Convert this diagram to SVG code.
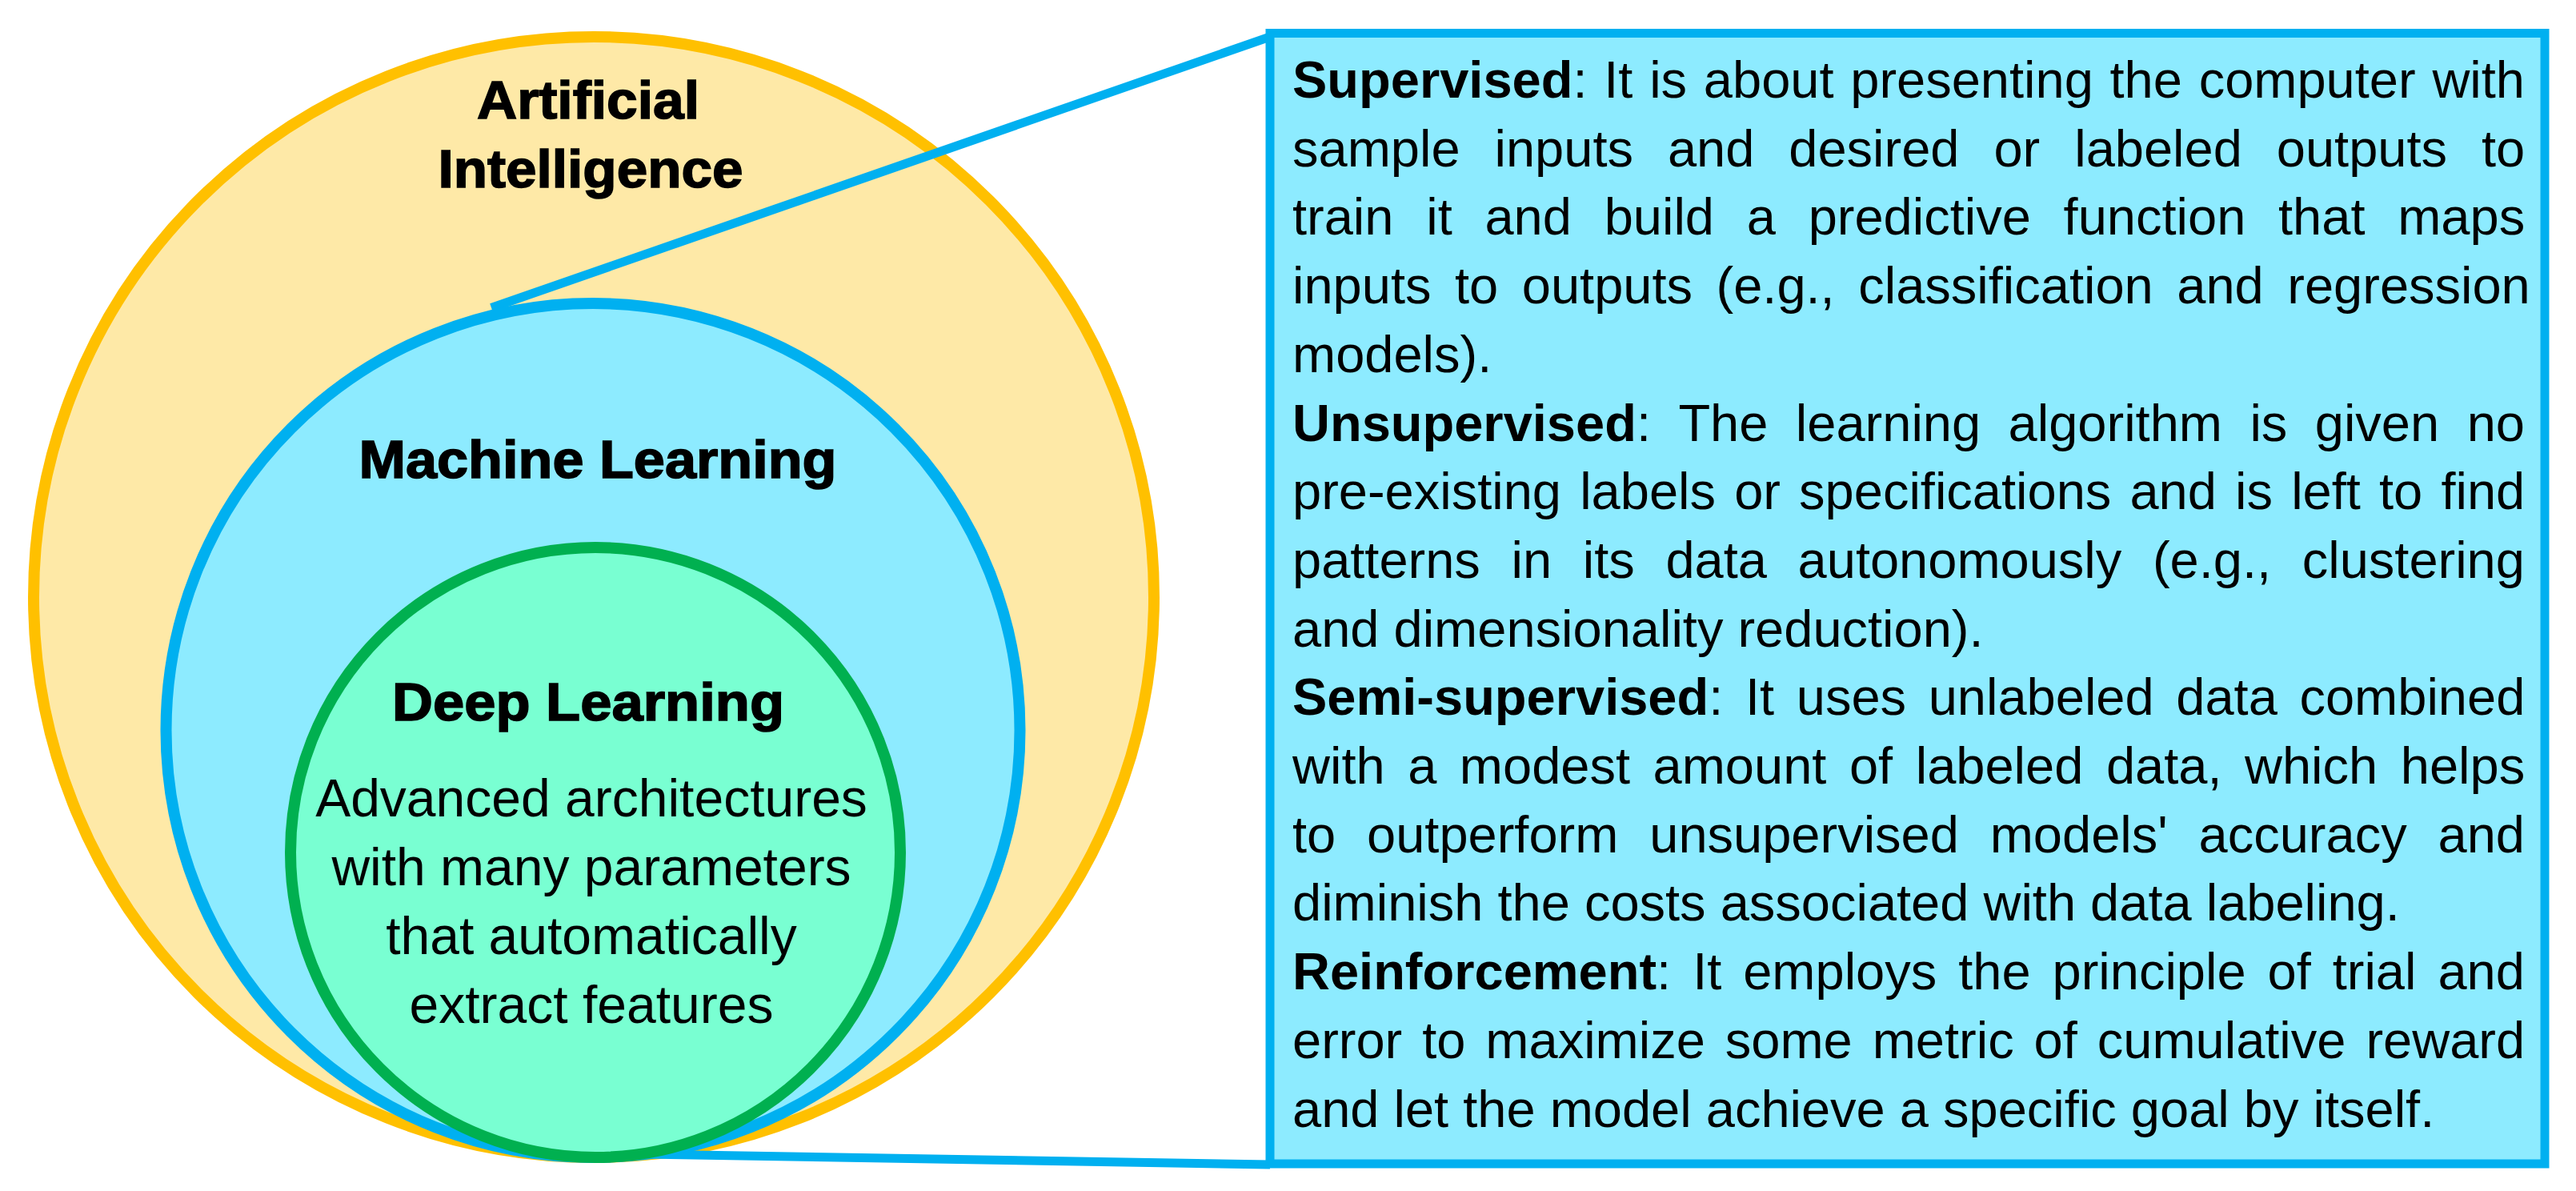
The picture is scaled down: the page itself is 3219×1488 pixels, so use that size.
<svg xmlns="http://www.w3.org/2000/svg" width="3219" height="1488" viewBox="0 0 3219 1488">
<style>
.head{font-family:'Liberation Sans',Arial,sans-serif;font-weight:bold;font-size:67px;fill:#000;stroke:#000;stroke-width:1.6px;text-anchor:middle}
.dl{font-family:'Liberation Sans',Arial,sans-serif;font-size:66px;fill:#000;text-anchor:middle}
.body{font-family:'Liberation Sans',Arial,sans-serif;font-size:65px;fill:#000;font-kerning:none;font-variant-ligatures:none}
.b{font-weight:bold}
.conn{stroke:#00B0F0;stroke-width:11;fill:none}
</style>
<rect width="3219" height="1488" fill="#ffffff"/>
<g id="artificial-intelligence">
<circle cx="742" cy="746" r="700" fill="#FEE9A7" stroke="#FFC000" stroke-width="14"/>
<text class="head" x="735" y="148" textLength="278" lengthAdjust="spacingAndGlyphs">Artificial</text>
<text class="head" x="738" y="234" textLength="381" lengthAdjust="spacingAndGlyphs">Intelligence</text>
</g>
<g id="connectors">
<line class="conn" x1="614" y1="384.5" x2="1587" y2="46"/>
<line class="conn" x1="745" y1="1441" x2="1587" y2="1455"/>
</g>
<g id="machine-learning">
<circle cx="741" cy="912.5" r="533.5" fill="#8DEBFF" stroke="#00B0F0" stroke-width="14"/>
<text class="head" x="747" y="597" textLength="597" lengthAdjust="spacingAndGlyphs">Machine Learning</text>
</g>
<g id="deep-learning">
<circle cx="744" cy="1065" r="381" fill="#79FFD2" stroke="#00B050" stroke-width="14"/>
<text class="head" x="735" y="900" textLength="490" lengthAdjust="spacingAndGlyphs">Deep Learning</text>
<text class="dl" x="739" y="1020">Advanced architectures</text>
<text class="dl" x="739" y="1106">with many parameters</text>
<text class="dl" x="739" y="1192">that automatically</text>
<text class="dl" x="739" y="1278">extract features</text>
</g>
<g id="learning-types">
<rect x="1587" y="41.5" width="1593" height="1412.5" fill="#8DEBFF" stroke="#00B0F0" stroke-width="11"/>
<text class="body" x="1615" y="122" style="word-spacing:2.7px"><tspan class="b">Supervised</tspan>: It is about presenting the computer with</text>
<text class="body" x="1615" y="207.7" style="word-spacing:24.9px">sample inputs and desired or labeled outputs to</text>
<text class="body" x="1615" y="293.4" style="word-spacing:22.7px">train it and build a predictive function that maps</text>
<text class="body" x="1615" y="379.1" style="word-spacing:11.5px">inputs to outputs (e.g., classification and regression</text>
<text class="body" x="1615" y="464.8">models).</text>
<text class="body" x="1615" y="550.5" style="word-spacing:16.4px"><tspan class="b">Unsupervised</tspan>: The learning algorithm is given no</text>
<text class="body" x="1615" y="636.2" style="word-spacing:5.1px">pre-existing labels or specifications and is left to find</text>
<text class="body" x="1615" y="721.9" style="word-spacing:20.6px">patterns in its data autonomously (e.g., clustering</text>
<text class="body" x="1615" y="807.6">and dimensionality reduction).</text>
<text class="body" x="1615" y="893.3" style="word-spacing:9.6px"><tspan class="b">Semi-supervised</tspan>: It uses unlabeled data combined</text>
<text class="body" x="1615" y="979" style="word-spacing:10.5px">with a modest amount of labeled data, which helps</text>
<text class="body" x="1615" y="1064.7" style="word-spacing:20.8px">to outperform unsupervised models' accuracy and</text>
<text class="body" x="1615" y="1150.4">diminish the costs associated with data labeling.</text>
<text class="body" x="1615" y="1236.1" style="word-spacing:8.9px"><tspan class="b">Reinforcement</tspan>: It employs the principle of trial and</text>
<text class="body" x="1615" y="1321.8" style="word-spacing:6.9px">error to maximize some metric of cumulative reward</text>
<text class="body" x="1615" y="1407.5">and let the model achieve a specific goal by itself.</text>
</g>
</svg>
